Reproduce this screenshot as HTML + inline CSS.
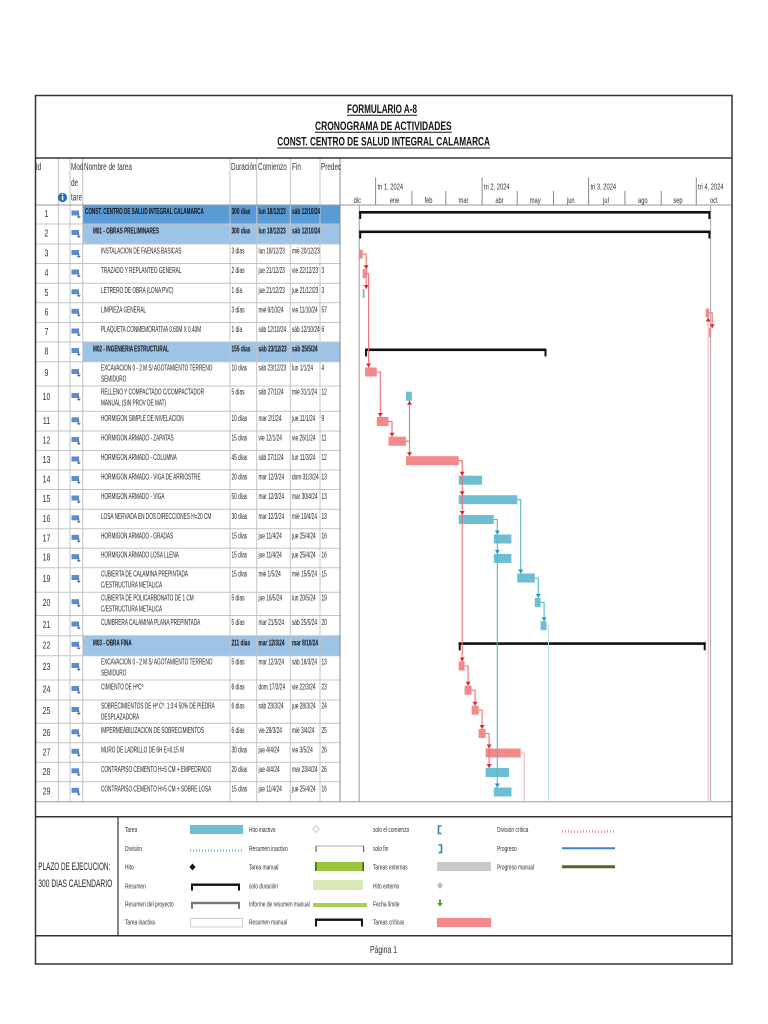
<!DOCTYPE html>
<html><head><meta charset="utf-8"><style>
html,body{margin:0;padding:0;background:#fff}
svg{display:block}
text{font-family:"Liberation Sans",Arial,sans-serif;fill:#222}
.n{font-size:8px}
.b{font-weight:bold;fill:#111}
.h{font-size:10px;fill:#333}
.i{font-size:10px;fill:#333}
.g{font-size:8px;fill:#333}
.l{font-size:7.5px;fill:#333}
</style></head><body>
<svg width="768" height="1024" viewBox="0 0 768 1024" xmlns="http://www.w3.org/2000/svg">
<defs>
<g id="mi"><rect x="0" y="0" width="7.5" height="5" fill="#5b8bd0"/><path d="M7.3 3.5v3.8M5.8 5.8l1.5 1.5 1.5-1.5" stroke="#555" stroke-width=".8" fill="none"/></g>
<path id="ad" d="M-2.5 -4L2.5 -4L0 0Z"/>
<path id="au" d="M-2.5 4L2.5 4L0 0Z"/>
</defs>
<rect width="768" height="1024" fill="#fff"/>

<!-- Title -->
<text class="b" style="font-size:11.5px" x="347" y="113" textLength="70" lengthAdjust="spacingAndGlyphs">FORMULARIO A-8</text>
<text class="b" style="font-size:11.5px" x="315" y="130" textLength="136.7" lengthAdjust="spacingAndGlyphs">CRONOGRAMA DE ACTIVIDADES</text>
<text class="b" style="font-size:11.5px" x="277.3" y="145.7" textLength="212.7" lengthAdjust="spacingAndGlyphs">CONST. CENTRO DE SALUD INTEGRAL CALAMARCA</text>
<g stroke="#111" stroke-width="1">
<line x1="347" y1="115.3" x2="417" y2="115.3"/>
<line x1="315" y1="132.3" x2="451.7" y2="132.3"/>
<line x1="277.3" y1="148" x2="490" y2="148"/>
</g>

<!-- summary row fills -->
<rect x="83" y="204.5" width="257" height="19.5" fill="#5b9bd5"/>
<rect x="83" y="224" width="257" height="20" fill="#9dc3e6"/>
<rect x="83" y="342" width="257" height="19.8" fill="#9dc3e6"/>
<rect x="83" y="635.8" width="257" height="20" fill="#9dc3e6"/>

<!-- table grid -->
<g stroke="#c4c4c4" stroke-width="1">
<line x1="35" y1="224" x2="340" y2="224"/>
<line x1="35" y1="244" x2="340" y2="244"/>
<line x1="35" y1="263.5" x2="340" y2="263.5"/>
<line x1="35" y1="283.3" x2="340" y2="283.3"/>
<line x1="35" y1="302.8" x2="340" y2="302.8"/>
<line x1="35" y1="322.5" x2="340" y2="322.5"/>
<line x1="35" y1="342" x2="340" y2="342"/>
<line x1="35" y1="361.8" x2="340" y2="361.8"/>
<line x1="35" y1="386" x2="340" y2="386"/>
<line x1="35" y1="411.3" x2="340" y2="411.3"/>
<line x1="35" y1="431" x2="340" y2="431"/>
<line x1="35" y1="450.5" x2="340" y2="450.5"/>
<line x1="35" y1="470" x2="340" y2="470"/>
<line x1="35" y1="489.5" x2="340" y2="489.5"/>
<line x1="35" y1="509.3" x2="340" y2="509.3"/>
<line x1="35" y1="528.8" x2="340" y2="528.8"/>
<line x1="35" y1="548.2" x2="340" y2="548.2"/>
<line x1="35" y1="567.8" x2="340" y2="567.8"/>
<line x1="35" y1="592.2" x2="340" y2="592.2"/>
<line x1="35" y1="615.5" x2="340" y2="615.5"/>
<line x1="35" y1="635.8" x2="340" y2="635.8"/>
<line x1="35" y1="655.8" x2="340" y2="655.8"/>
<line x1="35" y1="680" x2="340" y2="680"/>
<line x1="35" y1="700" x2="340" y2="700"/>
<line x1="35" y1="723.3" x2="340" y2="723.3"/>
<line x1="35" y1="742.8" x2="340" y2="742.8"/>
<line x1="35" y1="762.3" x2="340" y2="762.3"/>
<line x1="35" y1="781.8" x2="340" y2="781.8"/>
<line x1="58.3" y1="158" x2="58.3" y2="801.7"/>
<line x1="70" y1="158" x2="70" y2="801.7"/>
<line x1="82.7" y1="158" x2="82.7" y2="801.7"/>
<line x1="230" y1="158" x2="230" y2="801.7"/>
<line x1="256.7" y1="158" x2="256.7" y2="801.7"/>
<line x1="290.3" y1="158" x2="290.3" y2="801.7"/>
<line x1="320" y1="158" x2="320" y2="801.7"/>
</g>
<line x1="340" y1="158" x2="340" y2="801.7" stroke="#888" stroke-width="1"/>
<line x1="35" y1="205" x2="732" y2="205" stroke="#999" stroke-width="1"/>
<line x1="35" y1="801.7" x2="732" y2="801.7" stroke="#999" stroke-width="1"/>

<!-- table header -->
<text class="h" transform="translate(36 170) scale(.64 1)">Id</text>
<text class="h" transform="translate(71 170) scale(.64 1)">Mod</text>
<text class="h" transform="translate(71 186) scale(.64 1)">de</text>
<text class="h" transform="translate(71 200.5) scale(.64 1)">tare</text>
<circle cx="62.5" cy="197.5" r="4.6" fill="#1f6fc0"/>
<rect x="61.8" y="196.2" width="1.5" height="4" fill="#fff"/>
<rect x="61.8" y="193.8" width="1.5" height="1.4" fill="#fff"/>
<text class="h" transform="translate(84 170) scale(.64 1)">Nombre de tarea</text>
<text class="h" transform="translate(231 170) scale(.64 1)">Duración</text>
<text class="h" transform="translate(258 170) scale(.64 1)">Comienzo</text>
<text class="h" transform="translate(292 170) scale(.64 1)">Fin</text>
<text class="h" transform="translate(321 170) scale(.64 1)">Predec</text>

<!-- timeline header -->
<g stroke="#888" stroke-width="1">
<line x1="375.6" y1="177.5" x2="375.6" y2="205"/>
<line x1="482.1" y1="177.5" x2="482.1" y2="205"/>
<line x1="588.6" y1="177.5" x2="588.6" y2="205"/>
<line x1="696.3" y1="177.5" x2="696.3" y2="205"/>
<line x1="411.9" y1="191" x2="411.9" y2="205"/>
<line x1="445.8" y1="191" x2="445.8" y2="205"/>
<line x1="517.2" y1="191" x2="517.2" y2="205"/>
<line x1="553.5" y1="191" x2="553.5" y2="205"/>
<line x1="624.9" y1="191" x2="624.9" y2="205"/>
<line x1="661.2" y1="191" x2="661.2" y2="205"/>
</g>
<text class="g" transform="translate(377.5 189.5) scale(.72 1)">tri 1, 2024</text>
<text class="g" transform="translate(484 189.5) scale(.72 1)">tri 2, 2024</text>
<text class="g" transform="translate(590.5 189.5) scale(.72 1)">tri 3, 2024</text>
<text class="g" transform="translate(698 189.5) scale(.72 1)">tri 4, 2024</text>
<g text-anchor="middle">
<text class="g" transform="translate(357.3 203) scale(.72 1)">dic</text>
<text class="g" transform="translate(394.5 203) scale(.72 1)">ene</text>
<text class="g" transform="translate(428.5 203) scale(.72 1)">feb</text>
<text class="g" transform="translate(463.5 203) scale(.72 1)">mar</text>
<text class="g" transform="translate(499.5 203) scale(.72 1)">abr</text>
<text class="g" transform="translate(535.2 203) scale(.72 1)">may</text>
<text class="g" transform="translate(570.8 203) scale(.72 1)">jun</text>
<text class="g" transform="translate(606 203) scale(.72 1)">jul</text>
<text class="g" transform="translate(642.8 203) scale(.72 1)">ago</text>
<text class="g" transform="translate(678 203) scale(.72 1)">sep</text>
<text class="g" transform="translate(713.8 203) scale(.72 1)">oct</text>
</g>

<!-- Id numbers -->
<g text-anchor="middle">
<text class="i" transform="translate(46.5 217) scale(.7 1)">1</text>
<text class="i" transform="translate(46.5 236.5) scale(.7 1)">2</text>
<text class="i" transform="translate(46.5 256.5) scale(.7 1)">3</text>
<text class="i" transform="translate(46.5 276) scale(.7 1)">4</text>
<text class="i" transform="translate(46.5 295.8) scale(.7 1)">5</text>
<text class="i" transform="translate(46.5 315.3) scale(.7 1)">6</text>
<text class="i" transform="translate(46.5 335) scale(.7 1)">7</text>
<text class="i" transform="translate(46.5 354.5) scale(.7 1)">8</text>
<text class="i" transform="translate(46.5 375.8) scale(.7 1)">9</text>
<text class="i" transform="translate(46.5 400) scale(.7 1)">10</text>
<text class="i" transform="translate(46.5 423.8) scale(.7 1)">11</text>
<text class="i" transform="translate(46.5 443.5) scale(.7 1)">12</text>
<text class="i" transform="translate(46.5 463) scale(.7 1)">13</text>
<text class="i" transform="translate(46.5 482.5) scale(.7 1)">14</text>
<text class="i" transform="translate(46.5 502) scale(.7 1)">15</text>
<text class="i" transform="translate(46.5 521.8) scale(.7 1)">16</text>
<text class="i" transform="translate(46.5 541.3) scale(.7 1)">17</text>
<text class="i" transform="translate(46.5 560.7) scale(.7 1)">18</text>
<text class="i" transform="translate(46.5 581.8) scale(.7 1)">19</text>
<text class="i" transform="translate(46.5 606.2) scale(.7 1)">20</text>
<text class="i" transform="translate(46.5 628) scale(.7 1)">21</text>
<text class="i" transform="translate(46.5 648.3) scale(.7 1)">22</text>
<text class="i" transform="translate(46.5 669.8) scale(.7 1)">23</text>
<text class="i" transform="translate(46.5 692.5) scale(.7 1)">24</text>
<text class="i" transform="translate(46.5 714) scale(.7 1)">25</text>
<text class="i" transform="translate(46.5 735.8) scale(.7 1)">26</text>
<text class="i" transform="translate(46.5 755.3) scale(.7 1)">27</text>
<text class="i" transform="translate(46.5 774.8) scale(.7 1)">28</text>
<text class="i" transform="translate(46.5 794.3) scale(.7 1)">29</text>
</g>

<!-- mode icons -->
<use href="#mi" x="71.5" y="210.5"/>
<use href="#mi" x="71.5" y="230"/>
<use href="#mi" x="71.5" y="250"/>
<use href="#mi" x="71.5" y="269.5"/>
<use href="#mi" x="71.5" y="289.3"/>
<use href="#mi" x="71.5" y="308.8"/>
<use href="#mi" x="71.5" y="328.5"/>
<use href="#mi" x="71.5" y="348"/>
<use href="#mi" x="71.5" y="369"/>
<use href="#mi" x="71.5" y="393"/>
<use href="#mi" x="71.5" y="417.3"/>
<use href="#mi" x="71.5" y="437"/>
<use href="#mi" x="71.5" y="456.5"/>
<use href="#mi" x="71.5" y="476"/>
<use href="#mi" x="71.5" y="495.5"/>
<use href="#mi" x="71.5" y="515.3"/>
<use href="#mi" x="71.5" y="534.8"/>
<use href="#mi" x="71.5" y="554.2"/>
<use href="#mi" x="71.5" y="575"/>
<use href="#mi" x="71.5" y="599.2"/>
<use href="#mi" x="71.5" y="621.5"/>
<use href="#mi" x="71.5" y="641.8"/>
<use href="#mi" x="71.5" y="663"/>
<use href="#mi" x="71.5" y="686"/>
<use href="#mi" x="71.5" y="707"/>
<use href="#mi" x="71.5" y="729.3"/>
<use href="#mi" x="71.5" y="748.8"/>
<use href="#mi" x="71.5" y="768.3"/>
<use href="#mi" x="71.5" y="787.8"/>

<!-- task names -->
<text class="n b" transform="translate(85 214) scale(.58 1)">CONST. CENTRO DE SALUD INTEGRAL CALAMARCA</text>
<text class="n b" transform="translate(93 233.5) scale(.58 1)">M01 - OBRAS PRELIMINARES</text>
<text class="n" transform="translate(101 253.5) scale(.59 1)">INSTALACION DE FAENAS BASICAS</text>
<text class="n" transform="translate(101 273) scale(.59 1)">TRAZADO Y REPLANTEO GENERAL</text>
<text class="n" transform="translate(101 292.8) scale(.59 1)">LETRERO DE OBRA (LONA PVC)</text>
<text class="n" transform="translate(101 312.3) scale(.59 1)">LIMPIEZA GENERAL</text>
<text class="n" transform="translate(101 332) scale(.59 1)">PLAQUETA CONMEMORATIVA 0.60M X 0.40M</text>
<text class="n b" transform="translate(93 351.5) scale(.58 1)">M02 - INGENIERIA ESTRUCTURAL</text>
<text class="n" transform="translate(101 370.3) scale(.59 1)">EXCAVACION 0 - 2 M S/ AGOTAMIENTO TERRENO</text>
<text class="n" transform="translate(101 381.3) scale(.59 1)">SEMIDURO</text>
<text class="n" transform="translate(101 394.5) scale(.59 1)">RELLENO Y COMPACTADO C/COMPACTADOR</text>
<text class="n" transform="translate(101 405.5) scale(.59 1)">MANUAL (SIN PROV DE MAT)</text>
<text class="n" transform="translate(101 420.8) scale(.59 1)">HORMIGON SIMPLE DE NIVELACION</text>
<text class="n" transform="translate(101 440.5) scale(.59 1)">HORMIGON ARMADO - ZAPATAS</text>
<text class="n" transform="translate(101 460) scale(.59 1)">HORMIGON ARMADO - COLUMNA</text>
<text class="n" transform="translate(101 479.5) scale(.59 1)">HORMIGON ARMADO - VIGA DE ARRIOSTRE</text>
<text class="n" transform="translate(101 499) scale(.59 1)">HORMIGON ARMADO - VIGA</text>
<text class="n" transform="translate(101 518.8) scale(.59 1)">LOSA NERVADA EN DOS DIRECCIONES H=20 CM</text>
<text class="n" transform="translate(101 538.3) scale(.59 1)">HORMIGON ARMADO - GRADAS</text>
<text class="n" transform="translate(101 557.7) scale(.59 1)">HORMIGON ARMADO LOSA LLENA</text>
<text class="n" transform="translate(101 576.3) scale(.59 1)">CUBIERTA DE CALAMINA PREPINTADA</text>
<text class="n" transform="translate(101 587.3) scale(.59 1)">C/ESTRUCTURA METALICA</text>
<text class="n" transform="translate(101 600.7) scale(.59 1)">CUBIERTA DE POLICARBONATO DE 1 CM</text>
<text class="n" transform="translate(101 611.7) scale(.59 1)">C/ESTRUCTURA METALICA</text>
<text class="n" transform="translate(101 625) scale(.59 1)">CUMBRERA CALAMINA PLANA PREPINTADA</text>
<text class="n b" transform="translate(93 645.3) scale(.58 1)">M03 - OBRA FINA</text>
<text class="n" transform="translate(101 664.3) scale(.59 1)">EXCAVACION 0 - 2 M S/ AGOTAMIENTO TERRENO</text>
<text class="n" transform="translate(101 675.3) scale(.59 1)">SEMIDURO</text>
<text class="n" transform="translate(101 689.5) scale(.59 1)">CIMIENTO DE HºCº</text>
<text class="n" transform="translate(101 708.5) scale(.59 1)">SOBRECIMIENTOS DE Hº.Cº. 1:3:4 50% DE PIEDRA</text>
<text class="n" transform="translate(101 719.5) scale(.59 1)">DESPLAZADORA</text>
<text class="n" transform="translate(101 732.8) scale(.59 1)">IMPERMEABILIZACION DE SOBRECIMIENTOS</text>
<text class="n" transform="translate(101 752.3) scale(.59 1)">MURO DE LADRILLO DE 6H E=0.15 M</text>
<text class="n" transform="translate(101 771.8) scale(.59 1)">CONTRAPISO CEMENTO H=5 CM + EMPEDRADO</text>
<text class="n" transform="translate(101 791.3) scale(.59 1)">CONTRAPISO CEMENTO H=5 CM + SOBRE LOSA</text>

<!-- durations -->
<text class="n b" transform="translate(231.5 214) scale(.6 1)">300 días</text>
<text class="n b" transform="translate(231.5 233.5) scale(.6 1)">300 días</text>
<text class="n" transform="translate(231.5 253.5) scale(.6 1)">3 días</text>
<text class="n" transform="translate(231.5 273) scale(.6 1)">2 días</text>
<text class="n" transform="translate(231.5 292.8) scale(.6 1)">1 día</text>
<text class="n" transform="translate(231.5 312.3) scale(.6 1)">3 días</text>
<text class="n" transform="translate(231.5 332) scale(.6 1)">1 día</text>
<text class="n b" transform="translate(231.5 351.5) scale(.6 1)">155 días</text>
<text class="n" transform="translate(231.5 370.3) scale(.6 1)">10 días</text>
<text class="n" transform="translate(231.5 394.5) scale(.6 1)">5 días</text>
<text class="n" transform="translate(231.5 420.8) scale(.6 1)">10 días</text>
<text class="n" transform="translate(231.5 440.5) scale(.6 1)">15 días</text>
<text class="n" transform="translate(231.5 460) scale(.6 1)">45 días</text>
<text class="n" transform="translate(231.5 479.5) scale(.6 1)">20 días</text>
<text class="n" transform="translate(231.5 499) scale(.6 1)">50 días</text>
<text class="n" transform="translate(231.5 518.8) scale(.6 1)">30 días</text>
<text class="n" transform="translate(231.5 538.3) scale(.6 1)">15 días</text>
<text class="n" transform="translate(231.5 557.7) scale(.6 1)">15 días</text>
<text class="n" transform="translate(231.5 576.3) scale(.6 1)">15 días</text>
<text class="n" transform="translate(231.5 600.7) scale(.6 1)">5 días</text>
<text class="n" transform="translate(231.5 625) scale(.6 1)">5 días</text>
<text class="n b" transform="translate(231.5 645.3) scale(.6 1)">211 días</text>
<text class="n" transform="translate(231.5 664.3) scale(.6 1)">5 días</text>
<text class="n" transform="translate(231.5 689.5) scale(.6 1)">6 días</text>
<text class="n" transform="translate(231.5 708.5) scale(.6 1)">6 días</text>
<text class="n" transform="translate(231.5 732.8) scale(.6 1)">6 días</text>
<text class="n" transform="translate(231.5 752.3) scale(.6 1)">30 días</text>
<text class="n" transform="translate(231.5 771.8) scale(.6 1)">20 días</text>
<text class="n" transform="translate(231.5 791.3) scale(.6 1)">15 días</text>

<!-- start dates -->
<text class="n b" transform="translate(258.5 214) scale(.6 1)">lun 18/12/23</text>
<text class="n b" transform="translate(258.5 233.5) scale(.6 1)">lun 18/12/23</text>
<text class="n" transform="translate(258.5 253.5) scale(.6 1)">lun 18/12/23</text>
<text class="n" transform="translate(258.5 273) scale(.6 1)">jue 21/12/23</text>
<text class="n" transform="translate(258.5 292.8) scale(.6 1)">jue 21/12/23</text>
<text class="n" transform="translate(258.5 312.3) scale(.6 1)">mié 9/10/24</text>
<text class="n" transform="translate(258.5 332) scale(.6 1)">sáb 12/10/24</text>
<text class="n b" transform="translate(258.5 351.5) scale(.6 1)">sáb 23/12/23</text>
<text class="n" transform="translate(258.5 370.3) scale(.6 1)">sáb 23/12/23</text>
<text class="n" transform="translate(258.5 394.5) scale(.6 1)">sáb 27/1/24</text>
<text class="n" transform="translate(258.5 420.8) scale(.6 1)">mar 2/1/24</text>
<text class="n" transform="translate(258.5 440.5) scale(.6 1)">vie 12/1/24</text>
<text class="n" transform="translate(258.5 460) scale(.6 1)">sáb 27/1/24</text>
<text class="n" transform="translate(258.5 479.5) scale(.6 1)">mar 12/3/24</text>
<text class="n" transform="translate(258.5 499) scale(.6 1)">mar 12/3/24</text>
<text class="n" transform="translate(258.5 518.8) scale(.6 1)">mar 12/3/24</text>
<text class="n" transform="translate(258.5 538.3) scale(.6 1)">jue 11/4/24</text>
<text class="n" transform="translate(258.5 557.7) scale(.6 1)">jue 11/4/24</text>
<text class="n" transform="translate(258.5 576.3) scale(.6 1)">mié 1/5/24</text>
<text class="n" transform="translate(258.5 600.7) scale(.6 1)">jue 16/5/24</text>
<text class="n" transform="translate(258.5 625) scale(.6 1)">mar 21/5/24</text>
<text class="n b" transform="translate(258.5 645.3) scale(.6 1)">mar 12/3/24</text>
<text class="n" transform="translate(258.5 664.3) scale(.6 1)">mar 12/3/24</text>
<text class="n" transform="translate(258.5 689.5) scale(.6 1)">dom 17/3/24</text>
<text class="n" transform="translate(258.5 708.5) scale(.6 1)">sáb 23/3/24</text>
<text class="n" transform="translate(258.5 732.8) scale(.6 1)">vie 29/3/24</text>
<text class="n" transform="translate(258.5 752.3) scale(.6 1)">jue 4/4/24</text>
<text class="n" transform="translate(258.5 771.8) scale(.6 1)">jue 4/4/24</text>
<text class="n" transform="translate(258.5 791.3) scale(.6 1)">jue 11/4/24</text>

<!-- end dates -->
<text class="n b" transform="translate(292 214) scale(.6 1)">sáb 12/10/24</text>
<text class="n b" transform="translate(292 233.5) scale(.6 1)">sáb 12/10/24</text>
<text class="n" transform="translate(292 253.5) scale(.6 1)">mié 20/12/23</text>
<text class="n" transform="translate(292 273) scale(.6 1)">vie 22/12/23</text>
<text class="n" transform="translate(292 292.8) scale(.6 1)">jue 21/12/23</text>
<text class="n" transform="translate(292 312.3) scale(.6 1)">vie 11/10/24</text>
<text class="n" transform="translate(292 332) scale(.6 1)">sáb 12/10/24</text>
<text class="n b" transform="translate(292 351.5) scale(.6 1)">sáb 25/5/24</text>
<text class="n" transform="translate(292 370.3) scale(.6 1)">lun 1/1/24</text>
<text class="n" transform="translate(292 394.5) scale(.6 1)">mié 31/1/24</text>
<text class="n" transform="translate(292 420.8) scale(.6 1)">jue 11/1/24</text>
<text class="n" transform="translate(292 440.5) scale(.6 1)">vie 26/1/24</text>
<text class="n" transform="translate(292 460) scale(.6 1)">lun 11/3/24</text>
<text class="n" transform="translate(292 479.5) scale(.6 1)">dom 31/3/24</text>
<text class="n" transform="translate(292 499) scale(.6 1)">mar 30/4/24</text>
<text class="n" transform="translate(292 518.8) scale(.6 1)">mié 10/4/24</text>
<text class="n" transform="translate(292 538.3) scale(.6 1)">jue 25/4/24</text>
<text class="n" transform="translate(292 557.7) scale(.6 1)">jue 25/4/24</text>
<text class="n" transform="translate(292 576.3) scale(.6 1)">mié 15/5/24</text>
<text class="n" transform="translate(292 600.7) scale(.6 1)">lun 20/5/24</text>
<text class="n" transform="translate(292 625) scale(.6 1)">sáb 25/5/24</text>
<text class="n b" transform="translate(292 645.3) scale(.6 1)">mar 8/10/24</text>
<text class="n" transform="translate(292 664.3) scale(.6 1)">sáb 16/3/24</text>
<text class="n" transform="translate(292 689.5) scale(.6 1)">vie 22/3/24</text>
<text class="n" transform="translate(292 708.5) scale(.6 1)">jue 28/3/24</text>
<text class="n" transform="translate(292 732.8) scale(.6 1)">mié 3/4/24</text>
<text class="n" transform="translate(292 752.3) scale(.6 1)">vie 3/5/24</text>
<text class="n" transform="translate(292 771.8) scale(.6 1)">mar 23/4/24</text>
<text class="n" transform="translate(292 791.3) scale(.6 1)">jue 25/4/24</text>

<!-- predecessors -->
<text class="n" transform="translate(321.5 273) scale(.6 1)">3</text>
<text class="n" transform="translate(321.5 292.8) scale(.6 1)">3</text>
<text class="n" transform="translate(321.5 312.3) scale(.6 1)">57</text>
<text class="n" transform="translate(321.5 332) scale(.6 1)">6</text>
<text class="n" transform="translate(321.5 370.3) scale(.6 1)">4</text>
<text class="n" transform="translate(321.5 394.5) scale(.6 1)">12</text>
<text class="n" transform="translate(321.5 420.8) scale(.6 1)">9</text>
<text class="n" transform="translate(321.5 440.5) scale(.6 1)">11</text>
<text class="n" transform="translate(321.5 460) scale(.6 1)">12</text>
<text class="n" transform="translate(321.5 479.5) scale(.6 1)">13</text>
<text class="n" transform="translate(321.5 499) scale(.6 1)">13</text>
<text class="n" transform="translate(321.5 518.8) scale(.6 1)">13</text>
<text class="n" transform="translate(321.5 538.3) scale(.6 1)">16</text>
<text class="n" transform="translate(321.5 557.7) scale(.6 1)">16</text>
<text class="n" transform="translate(321.5 576.3) scale(.6 1)">15</text>
<text class="n" transform="translate(321.5 600.7) scale(.6 1)">19</text>
<text class="n" transform="translate(321.5 625) scale(.6 1)">20</text>
<text class="n" transform="translate(321.5 664.3) scale(.6 1)">13</text>
<text class="n" transform="translate(321.5 689.5) scale(.6 1)">23</text>
<text class="n" transform="translate(321.5 708.5) scale(.6 1)">24</text>
<text class="n" transform="translate(321.5 732.8) scale(.6 1)">25</text>
<text class="n" transform="translate(321.5 752.3) scale(.6 1)">26</text>
<text class="n" transform="translate(321.5 771.8) scale(.6 1)">26</text>
<text class="n" transform="translate(321.5 791.3) scale(.6 1)">16</text>

<!-- project start/end lines -->
<line x1="359.2" y1="205" x2="359.2" y2="801.7" stroke="#999" stroke-width="1"/>
<line x1="710.6" y1="205" x2="710.6" y2="801.7" stroke="#aaa" stroke-width="1"/>

<!-- summary bars -->
<g fill="#111">
<rect x="359.2" y="211" width="351.2" height="2.6"/><rect x="359.2" y="211" width="2" height="8"/><rect x="708.4" y="211" width="2" height="8"/>
<rect x="359.2" y="230.5" width="351.2" height="2.6"/><rect x="359.2" y="230.5" width="2" height="8"/><rect x="708.4" y="230.5" width="2" height="8"/>
<rect x="365.1" y="348.5" width="181.4" height="2.6"/><rect x="365.1" y="348.5" width="2" height="8"/><rect x="544.5" y="348.5" width="2" height="8"/>
<rect x="458.7" y="642.3" width="247" height="2.6"/><rect x="458.7" y="642.3" width="2" height="8"/><rect x="703.7" y="642.3" width="2" height="8"/>
</g>

<!-- critical bars -->
<g fill="#f4898b">
<rect x="359.2" y="249.7" width="3.5" height="9"/>
<rect x="362.7" y="269.2" width="2.8" height="9"/>
<rect x="705.7" y="308.5" width="3.5" height="9"/>
<rect x="709" y="328.2" width="1.8" height="9"/>
<rect x="365.1" y="367.5" width="11.7" height="9"/>
<rect x="376.8" y="417" width="11.7" height="9"/>
<rect x="388.5" y="436.7" width="17.5" height="9"/>
<rect x="406" y="456.2" width="52.7" height="9"/>
<rect x="458.7" y="661.5" width="5.9" height="9"/>
<rect x="464.6" y="685.7" width="7" height="9"/>
<rect x="471.6" y="705.7" width="7" height="9"/>
<rect x="478.6" y="729" width="7" height="9"/>
<rect x="485.6" y="748.5" width="35.1" height="9"/>
</g>
<!-- normal bars -->
<g fill="#6cbfd2">
<rect x="362.7" y="289" width="1.8" height="9"/>
<rect x="406" y="391.7" width="5.9" height="9"/>
<rect x="458.7" y="475.7" width="23.4" height="9"/>
<rect x="458.7" y="495.2" width="58.5" height="9"/>
<rect x="458.7" y="515" width="35.1" height="9"/>
<rect x="493.8" y="534.5" width="17.6" height="9"/>
<rect x="493.8" y="553.9" width="17.6" height="9"/>
<rect x="517.2" y="573.5" width="17.6" height="9"/>
<rect x="534.8" y="597.9" width="5.8" height="9"/>
<rect x="540.6" y="621.2" width="5.9" height="9"/>
<rect x="485.6" y="768" width="23.4" height="9"/>
<rect x="493.8" y="787.5" width="17.6" height="9"/>
</g>

<!-- links critical -->
<g fill="none" stroke="#ef6f72" stroke-width="1.1">
<path d="M362.7 254.2H366.2V289"/>
<path d="M365.1 273.7H368.6V367.5"/>
<path d="M376.8 372H380.3V417"/>
<path d="M388.5 421.5H392V436.7"/>
<path d="M406 441.2H409.5V456.2M409.5 441.2V400.7"/>
<path d="M458.7 460.7H462.2V661.5"/>
<path d="M464.6 666H468.1V685.7"/>
<path d="M471.6 690.2H475.1V705.7"/>
<path d="M478.6 710.2H482.1V729"/>
<path d="M485.6 733.5H489.1V768"/>
<path d="M709.2 312.9H712.2V328.2"/>
</g>
<g fill="none" stroke="#f6b0b2" stroke-width="1">
<path d="M520.7 753H524.2V801.7"/>
<path d="M708.2 801.7V317.5"/>
</g>
<g fill="#e0262b">
<use href="#ad" x="366.2" y="269.2"/>
<use href="#ad" x="366.2" y="289"/>
<use href="#ad" x="368.6" y="367.5"/>
<use href="#ad" x="380.3" y="417"/>
<use href="#ad" x="392" y="436.7"/>
<use href="#ad" x="409.5" y="456.2"/>
<use href="#au" x="409.5" y="400.7"/>
<use href="#ad" x="462.2" y="475.7"/>
<use href="#ad" x="462.2" y="495.2"/>
<use href="#ad" x="462.2" y="515"/>
<use href="#ad" x="462.2" y="661.5"/>
<use href="#ad" x="468.1" y="685.7"/>
<use href="#ad" x="475.1" y="705.7"/>
<use href="#ad" x="482.1" y="729"/>
<use href="#ad" x="489.1" y="748.5"/>
<use href="#ad" x="489.1" y="768"/>
<use href="#au" x="708.2" y="317.5"/>
<use href="#ad" x="712.2" y="328.2"/>
</g>
<!-- links normal -->
<g fill="none" stroke="#55b5ce" stroke-width="1.1">
<path d="M493.8 519.5H497.3V787.5"/>
<path d="M517.2 499.7H520.7V573.5"/>
<path d="M534.8 578H538.3V597.9"/>
<path d="M540.6 602.4H544.1V621.2"/>
</g>
<path d="M546.5 625.7H548.5V801.7" fill="none" stroke="#b5e0eb" stroke-width="1"/>
<g fill="#1a9bbf">
<use href="#ad" x="497.3" y="534.5"/>
<use href="#ad" x="497.3" y="553.9"/>
<use href="#ad" x="497.3" y="787.5"/>
<use href="#ad" x="520.7" y="573.5"/>
<use href="#ad" x="538.3" y="597.9"/>
<use href="#ad" x="544.1" y="621.2"/>
</g>

<!-- frame and section lines -->
<rect x="35.5" y="95.5" width="696.5" height="868.5" fill="none" stroke="#333" stroke-width="1.5"/>
<line x1="35" y1="158" x2="732" y2="158" stroke="#333" stroke-width="1.5"/>
<line x1="35" y1="816.7" x2="732" y2="816.7" stroke="#333" stroke-width="1.5"/>
<line x1="35" y1="935.7" x2="732" y2="935.7" stroke="#333" stroke-width="1.5"/>
<line x1="118" y1="816.7" x2="118" y2="935.7" stroke="#333" stroke-width="1.2"/>

<!-- legend left cell -->
<text style="font-size:11px" x="38.3" y="870" textLength="72" lengthAdjust="spacingAndGlyphs">PLAZO DE EJECUCION:</text>
<text style="font-size:11px" x="38.3" y="887" textLength="74" lengthAdjust="spacingAndGlyphs">300 DIAS CALENDARIO</text>

<!-- legend labels -->
<text class="l" transform="translate(125 832) scale(.65 1)">Tarea</text>
<text class="l" transform="translate(125 851) scale(.65 1)">División</text>
<text class="l" transform="translate(125 869.4) scale(.65 1)">Hito</text>
<text class="l" transform="translate(125 888.4) scale(.65 1)">Resumen</text>
<text class="l" transform="translate(125 906.7) scale(.65 1)">Resumen del proyecto</text>
<text class="l" transform="translate(125 924.4) scale(.65 1)">Tarea inactiva</text>
<text class="l" transform="translate(249 832) scale(.65 1)">Hito inactivo</text>
<text class="l" transform="translate(249 851) scale(.65 1)">Resumen inactivo</text>
<text class="l" transform="translate(249 869.4) scale(.65 1)">Tarea manual</text>
<text class="l" transform="translate(249 888.4) scale(.65 1)">solo duración</text>
<text class="l" transform="translate(249 906.7) scale(.65 1)">Informe de resumen manual</text>
<text class="l" transform="translate(249 924.4) scale(.65 1)">Resumen manual</text>
<text class="l" transform="translate(373 832) scale(.65 1)">solo el comienzo</text>
<text class="l" transform="translate(373 851) scale(.65 1)">solo fin</text>
<text class="l" transform="translate(373 869.4) scale(.65 1)">Tareas externas</text>
<text class="l" transform="translate(373 888.4) scale(.65 1)">Hito externo</text>
<text class="l" transform="translate(373 906.7) scale(.65 1)">Fecha límite</text>
<text class="l" transform="translate(373 924.4) scale(.65 1)">Tareas críticas</text>
<text class="l" transform="translate(497 832) scale(.65 1)">División crítica</text>
<text class="l" transform="translate(497 851) scale(.65 1)">Progreso</text>
<text class="l" transform="translate(497 869.4) scale(.65 1)">Progreso manual</text>

<!-- legend swatches col1 -->
<rect x="190" y="825" width="53" height="9" fill="#6cbfd2"/>
<line x1="190" y1="850.5" x2="243" y2="850.5" stroke="#6cbfd2" stroke-width="2.5" stroke-dasharray="1 2"/>
<path d="M192.5 863.5L195.5 867L192.5 870.5L189.5 867Z" fill="#111"/>
<g fill="#111"><rect x="191" y="883.5" width="49" height="2.4"/><rect x="191" y="883.5" width="2" height="7"/><rect x="238" y="883.5" width="2" height="7"/></g>
<g fill="#777"><rect x="191" y="901.8" width="49" height="2.4"/><rect x="191" y="901.8" width="2" height="7"/><rect x="238" y="901.8" width="2" height="7"/></g>
<rect x="190.5" y="918.5" width="52" height="8.5" fill="#fff" stroke="#ccc" stroke-width="1"/>
<!-- col2 -->
<path d="M316 825.5L319 829L316 832.5L313 829Z" fill="#fff" stroke="#ccc" stroke-width="1"/>
<line x1="316" y1="846" x2="364" y2="846" stroke="#bbb" stroke-width="1.2"/>
<rect x="315.5" y="846" width="1.2" height="6" fill="#666"/><rect x="363" y="846" width="1.2" height="6" fill="#666"/>
<rect x="315" y="862" width="49" height="9" fill="#9bc53d"/>
<rect x="315" y="862" width="1.6" height="9" fill="#3f6a12"/><rect x="362.4" y="862" width="1.6" height="9" fill="#3f6a12"/>
<rect x="313" y="880" width="50" height="10" fill="#d7e9b8"/>
<rect x="313" y="903" width="54" height="4" fill="#a8d050"/>
<g fill="#111"><rect x="315" y="918.5" width="48" height="2.4"/><rect x="315" y="918.5" width="2" height="8"/><rect x="361" y="918.5" width="2" height="8"/></g>
<!-- col3 -->
<path d="M441.5 826H438.5V833.5H441.5" fill="none" stroke="#1f8fa8" stroke-width="1.6"/>
<path d="M438.5 845H441.5V852.5H438.5" fill="none" stroke="#1f8fa8" stroke-width="1.6"/>
<rect x="437" y="862" width="54" height="9" fill="#c8c8c8"/>
<path d="M440 882L443 885.5L440 889L437 885.5Z" fill="#bbb"/>
<path d="M439 899.5h2v3.5h2l-3 3.5l-3-3.5h2z" fill="#4caf28"/>
<rect x="437" y="918" width="54" height="9" fill="#f4898b"/>
<!-- col4 -->
<line x1="562" y1="831.5" x2="615" y2="831.5" stroke="#f4898b" stroke-width="2.5" stroke-dasharray="1 2"/>
<line x1="562" y1="848.3" x2="615" y2="848.3" stroke="#3a82d4" stroke-width="2"/>
<line x1="562" y1="866.7" x2="615" y2="866.7" stroke="#4f6a1e" stroke-width="3"/>

<!-- footer -->
<text style="font-size:10px;fill:#333" x="370" y="953" textLength="27" lengthAdjust="spacingAndGlyphs">Página 1</text>
</svg>
</body></html>
